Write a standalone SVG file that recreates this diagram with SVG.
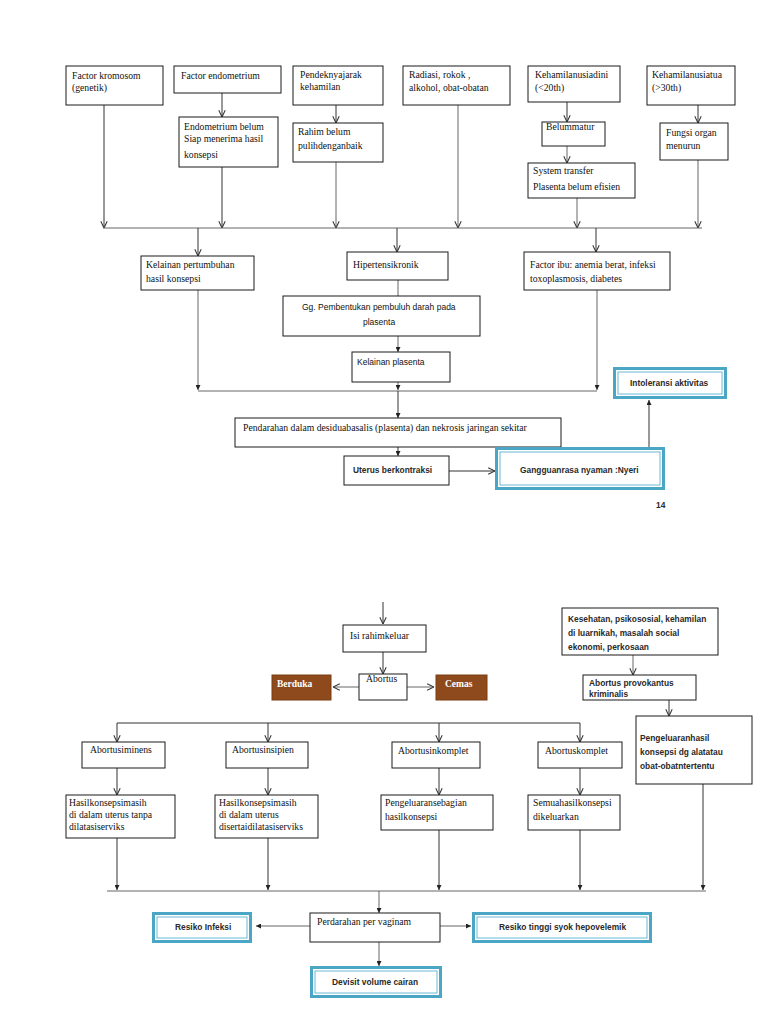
<svg xmlns="http://www.w3.org/2000/svg" width="768" height="1024" viewBox="0 0 768 1024">
<defs>
<marker id="av" viewBox="0 0 10 10" refX="9.5" refY="5" markerWidth="8" markerHeight="8" markerUnits="userSpaceOnUse" orient="auto"><path d="M1,1 L9.5,5 L1,9" fill="none" stroke="#333" stroke-width="1.3"/></marker>
<marker id="af" viewBox="0 0 10 10" refX="10" refY="5" markerWidth="5" markerHeight="5" markerUnits="userSpaceOnUse" orient="auto"><path d="M0,0 L10,5 L0,10 Z" fill="#222"/></marker>
</defs>
<style>
.bx{fill:#fff;stroke:#1a1a1a;stroke-width:1}
.tl{fill:#fff;stroke:#4aa6c4;stroke-width:3}
.ti{fill:none;stroke:#6bb9d2;stroke-width:1}
.br{fill:#8e4a1c;stroke:#7a3c12;stroke-width:1}
.s{font-family:"Liberation Serif","Times New Roman",serif;font-size:9.7px;fill:#111}
.r{font-family:"Liberation Sans",Arial,sans-serif;font-size:8.5px;fill:#111}
.b{font-family:"Liberation Sans",Arial,sans-serif;font-size:8.4px;font-weight:bold;fill:#2a2a2a}
.w{font-family:"Liberation Serif","Times New Roman",serif;font-size:9.5px;font-weight:bold;fill:#fff}
.ln{fill:none;stroke:#333;stroke-width:1}
.lg{fill:none;stroke:#666;stroke-width:1}
.v{marker-end:url(#av)}
.f{marker-end:url(#af)}
</style>
<rect width="768" height="1024" fill="#fff"/>

<g id="connectors">
<path class="ln v" d="M104,105 V228"/>
<path class="ln v" d="M222,93 V117"/>
<path class="ln v" d="M222,167 V228"/>
<path class="ln v" d="M336,105 V123"/>
<path class="lg v" d="M336,162 V228"/>
<path class="lg v" d="M458,105 V228"/>
<path class="ln v" d="M567,102 V122"/>
<path class="lg v" d="M567,146 V163"/>
<path class="lg v" d="M577,198 V228"/>
<path class="ln v" d="M698,105 V123"/>
<path class="lg v" d="M698,160 V228"/>
<path class="lg" d="M103,228 H702"/>
<path class="ln v" d="M198,228 V256"/>
<path class="ln v" d="M397,228 V252"/>
<path class="ln v" d="M596,228 V252"/>
<path class="lg f" d="M198,290 V390"/>
<path class="lg" d="M398,280 V296"/>
<path class="lg f" d="M398,336 V352"/>
<path class="lg f" d="M398,382 V390"/>
<path class="lg f" d="M597,290 V390"/>
<path class="lg" d="M198,391 H597"/>
<path class="ln f" d="M398,391 V418"/>
<path class="ln f" d="M398,447 V456"/>
<path class="ln v" d="M449,471 H495"/>
<path class="ln f" d="M649,447 V400"/>
<path class="ln v" d="M383,602 V624"/>
<path class="ln v" d="M383,652 V674"/>
<path class="lg v" d="M359,687 H333"/>
<path class="lg v" d="M407,687 H434"/>
<path class="lg v" d="M633,655 V675"/>
<path class="ln v" d="M669,700 V716"/>
<path class="ln" d="M117,723 H580"/>
<path class="ln v" d="M117,723 V742"/>
<path class="ln v" d="M268,723 V742"/>
<path class="ln v" d="M439,723 V742"/>
<path class="ln v" d="M580,723 V742"/>
<path class="ln v" d="M117,768 V795"/>
<path class="ln v" d="M268,768 V795"/>
<path class="ln v" d="M439,768 V795"/>
<path class="ln v" d="M580,768 V795"/>
<path class="ln f" d="M117,838 V890"/>
<path class="ln f" d="M268,838 V890"/>
<path class="ln f" d="M439,830 V890"/>
<path class="ln f" d="M580,830 V890"/>
<path class="ln f" d="M703,784 V890"/>
<path class="lg" d="M107,891 H706"/>
<path class="lg f" d="M379,891 V913"/>
<path class="lg f" d="M310,926 H256"/>
<path class="lg f" d="M440,926 H471"/>
<path class="lg f" d="M379,942 V966"/>
</g>

<g id="n-kromosom"><rect class="bx" x="66" y="66" width="97" height="39"/><text class="s" x="72" y="79">Factor kromosom</text><text class="s" x="72" y="91">(genetik)</text></g>
<g id="n-endometrium"><rect class="bx" x="174" y="66" width="107" height="27"/><text class="s" x="181" y="79">Factor endometrium</text></g>
<g id="n-pendek"><rect class="bx" x="293" y="66" width="90" height="39"/><text class="s" x="300" y="78">Pendeknyajarak</text><text class="s" x="300" y="90">kehamilan</text></g>
<g id="n-radiasi"><rect class="bx" x="403" y="66" width="107" height="39"/><text class="s" x="409" y="78">Radiasi, rokok ,</text><text class="s" x="409" y="91">alkohol, obat-obatan</text></g>
<g id="n-usiadini"><rect class="bx" x="528" y="66" width="92" height="36"/><text class="s" x="535" y="78">Kehamilanusiadini</text><text class="s" x="535" y="91">(&lt;20th)</text></g>
<g id="n-usiatua"><rect class="bx" x="647" y="66" width="88" height="39"/><text class="s" x="652" y="78">Kehamilanusiatua</text><text class="s" x="652" y="91">(&gt;30th)</text></g>
<g id="n-endobelum"><rect class="bx" x="179" y="117" width="99" height="50"/><text class="s" x="184" y="130">Endometrium belum</text><text class="s" x="184" y="142">Siap menerima hasil</text><text class="s" x="184" y="158">konsepsi</text></g>
<g id="n-rahim"><rect class="bx" x="293" y="123" width="90" height="39"/><text class="s" x="298" y="135">Rahim belum</text><text class="s" x="298" y="149">pulihdenganbaik</text></g>
<g id="n-matur"><rect class="bx" x="542" y="122" width="63" height="24"/><text class="s" x="546" y="130">Belummatur</text></g>
<g id="n-system"><rect class="bx" x="528" y="163" width="107" height="35"/><text class="s" x="533" y="174">System transfer</text><text class="s" x="533" y="190">Plasenta belum efisien</text></g>
<g id="n-fungsi"><rect class="bx" x="660" y="123" width="68" height="37"/><text class="s" x="666" y="136">Fungsi organ</text><text class="s" x="666" y="149">menurun</text></g>
<g id="n-kelainan"><rect class="bx" x="141" y="256" width="113" height="34"/><text class="s" x="146" y="268">Kelainan pertumbuhan</text><text class="s" x="146" y="282">hasil konsepsi</text></g>
<g id="n-hipertensi"><rect class="bx" x="347" y="252" width="101" height="28"/><text class="s" x="353" y="268">Hipertensikronik</text></g>
<g id="n-ibu"><rect class="bx" x="524" y="252" width="146" height="38"/><text class="s" x="530" y="268">Factor ibu: anemia berat, infeksi</text><text class="s" x="530" y="282">toxoplasmosis, diabetes</text></g>
<g id="n-gg"><rect class="bx" x="283" y="296" width="197" height="40"/><text class="r" x="302" y="310">Gg. Pembentukan pembuluh darah pada</text><text class="r" x="363" y="325">plasenta</text></g>
<g id="n-plasenta"><rect class="bx" x="352" y="352" width="98" height="30"/><text class="r" x="357" y="365">Kelainan plasenta</text></g>
<g id="n-pendarahan"><rect class="bx" x="235" y="418" width="326" height="29"/><text class="s" x="243" y="431">Pendarahan dalam desiduabasalis (plasenta) dan nekrosis jaringan sekitar</text></g>
<g id="n-uterus"><rect class="bx" x="344" y="456" width="105" height="29"/><text class="b" x="353" y="473">Uterus berkontraksi</text></g>
<g id="n-nyeri"><rect class="tl" x="496.5" y="448.5" width="167" height="40"/><rect class="ti" x="500" y="452" width="160" height="33"/><text class="b" x="520" y="473">Gangguanrasa nyaman :Nyeri</text></g>
<g id="n-intoleransi"><rect class="tl" x="614.5" y="368.5" width="111" height="29"/><rect class="ti" x="618" y="372" width="104" height="22"/><text class="b" x="630" y="386">Intoleransi aktivitas</text></g>
<text class="b" x="656" y="508">14</text>

<g id="n-isirahim"><rect class="bx" x="343" y="625" width="83" height="27"/><text class="s" x="350" y="639">Isi rahimkeluar</text></g>
<g id="n-abortus"><rect class="bx" x="359" y="674" width="48" height="26"/><text class="s" x="366" y="682">Abortus</text></g>
<g id="n-berduka"><rect class="br" x="272" y="675" width="59" height="25"/><text class="w" x="277" y="687">Berduka</text></g>
<g id="n-cemas"><rect class="br" x="436" y="675" width="51" height="25"/><text class="w" x="445" y="687">Cemas</text></g>
<g id="n-kesehatan"><rect class="bx" x="562" y="608" width="156" height="47"/><text class="b" x="568" y="622">Kesehatan, psikososial, kehamilan</text><text class="b" x="568" y="636">di luarnikah, masalah social</text><text class="b" x="568" y="650">ekonomi, perkosaan</text></g>
<g id="n-provokantus"><rect class="bx" x="583" y="675" width="113" height="25"/><text class="b" x="589" y="686">Abortus provokantus</text><text class="b" x="589" y="697">kriminalis</text></g>
<g id="n-pengeluaranhasil"><rect class="bx" x="636" y="716" width="116" height="68"/><text class="b" x="640" y="741">Pengeluaranhasil</text><text class="b" x="640" y="755">konsepsi dg alatatau</text><text class="b" x="640" y="769">obat-obatntertentu</text></g>
<g id="n-iminens"><rect class="bx" x="82" y="742" width="83" height="26"/><text class="s" x="90" y="753">Abortusiminens</text></g>
<g id="n-insipien"><rect class="bx" x="226" y="742" width="82" height="26"/><text class="s" x="232" y="753">Abortusinsipien</text></g>
<g id="n-inkomplet"><rect class="bx" x="392" y="742" width="88" height="26"/><text class="s" x="398" y="754">Abortusinkomplet</text></g>
<g id="n-komplet"><rect class="bx" x="538" y="742" width="84" height="26"/><text class="s" x="545" y="754">Abortuskomplet</text></g>
<g id="n-hasil1"><rect class="bx" x="66" y="795" width="109" height="43"/><text class="s" x="69" y="806">Hasilkonsepsimasih</text><text class="s" x="69" y="818">di dalam uterus tanpa</text><text class="s" x="69" y="830">dilatasiserviks</text></g>
<g id="n-hasil2"><rect class="bx" x="215" y="795" width="103" height="43"/><text class="s" x="219" y="806">Hasilkonsepsimasih</text><text class="s" x="219" y="818">di dalam uterus</text><text class="s" x="219" y="830">disertaidilatasiserviks</text></g>
<g id="n-sebagian"><rect class="bx" x="381" y="795" width="112" height="35"/><text class="s" x="385" y="806">Pengeluaransebagian</text><text class="s" x="385" y="820">hasilkonsepsi</text></g>
<g id="n-semua"><rect class="bx" x="528" y="795" width="92" height="35"/><text class="s" x="533" y="806">Semuahasilkonsepsi</text><text class="s" x="533" y="820">dikeluarkan</text></g>
<g id="n-perdarahan"><rect class="bx" x="310" y="913" width="130" height="29"/><text class="s" x="317" y="925">Perdarahan per vaginam</text></g>
<g id="n-infeksi"><rect class="tl" x="153.5" y="913.5" width="97" height="28"/><rect class="ti" x="157" y="917" width="90" height="21"/><text class="b" x="175" y="930">Resiko Infeksi</text></g>
<g id="n-syok"><rect class="tl" x="473.5" y="913.5" width="177" height="28"/><rect class="ti" x="477" y="917" width="170" height="21"/><text class="b" x="499" y="930">Resiko tinggi syok hepovelemik</text></g>
<g id="n-devisit"><rect class="tl" x="311.5" y="967.5" width="129" height="29"/><rect class="ti" x="315" y="971" width="122" height="22"/><text class="b" x="332" y="985">Devisit volume cairan</text></g>
</svg>
